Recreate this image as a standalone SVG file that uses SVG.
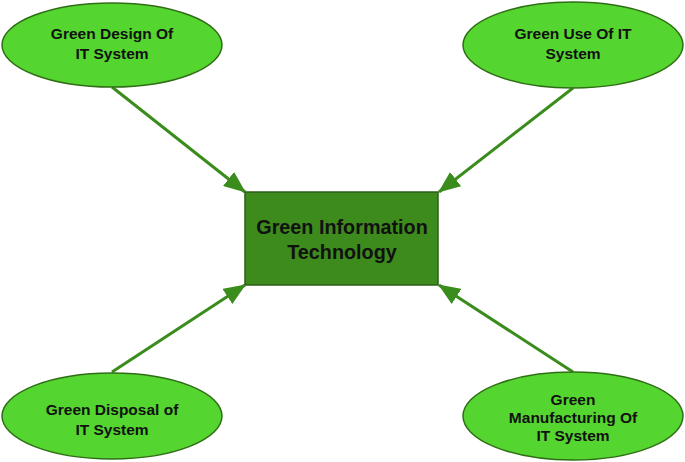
<svg xmlns="http://www.w3.org/2000/svg" width="685" height="462" viewBox="0 0 685 462">
<style>
.node ellipse{fill:#55d52f;stroke:#2f6e16;stroke-width:1.5}
.t{font-family:"Liberation Sans",Arial,sans-serif;font-weight:bold;font-size:15.5px;fill:#111;text-anchor:middle}
.c{font-size:19.8px}
.conn line{stroke:#3a8c1c;stroke-width:3;marker-end:url(#ah)}
</style>
<defs>
<marker id="ah" viewBox="0 0 22 18" refX="21" refY="9" markerWidth="22" markerHeight="18" orient="auto" markerUnits="userSpaceOnUse">
<path d="M0,0 L22,9 L0,18 z" fill="#3a8c1c"/>
</marker>
</defs>
<rect width="685" height="462" fill="#fff"/>
<g class="conn">
<line x1="112" y1="87" x2="245" y2="192"/>
<line x1="573" y1="88" x2="439" y2="192"/>
<line x1="112" y1="372" x2="245" y2="285"/>
<line x1="573" y1="372" x2="439" y2="285"/>
</g>
<g id="center">
<rect x="245" y="192" width="193" height="93" fill="#3d8a1d" stroke="#2b5e18" stroke-width="1.5"/>
<text class="t c" x="342" y="234">Green Information</text>
<text class="t c" x="342" y="259">Technology</text>
</g>
<g id="design" class="node">
<ellipse cx="112" cy="45" rx="110" ry="42"/>
<text class="t" x="112" y="39">Green Design Of</text>
<text class="t" x="112" y="59">IT System</text>
</g>
<g id="use" class="node">
<ellipse cx="573" cy="45" rx="110" ry="43"/>
<text class="t" x="573" y="39">Green Use Of IT</text>
<text class="t" x="573" y="59">System</text>
</g>
<g id="disposal" class="node">
<ellipse cx="112" cy="416" rx="110" ry="43"/>
<text class="t" x="112" y="415">Green Disposal of</text>
<text class="t" x="112" y="435">IT System</text>
</g>
<g id="manufacturing" class="node">
<ellipse cx="573" cy="416" rx="110" ry="44"/>
<text class="t" x="573" y="405">Green</text>
<text class="t" x="573" y="423">Manufacturing Of</text>
<text class="t" x="573" y="441">IT System</text>
</g>
</svg>
